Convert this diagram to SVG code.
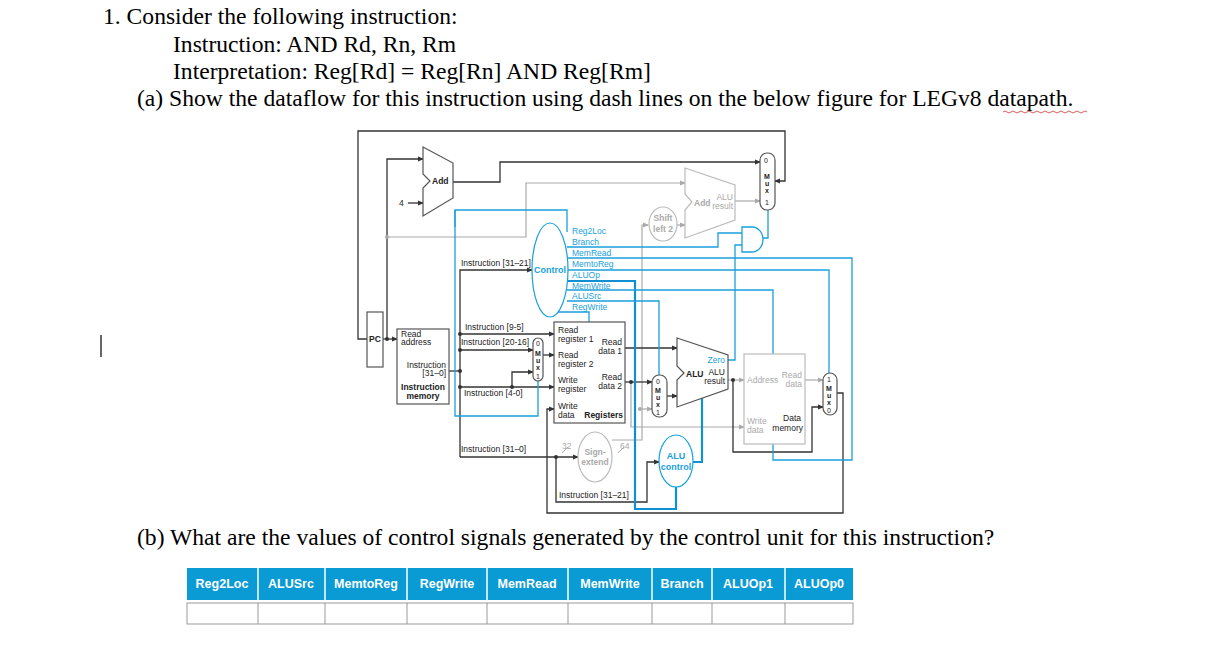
<svg xmlns="http://www.w3.org/2000/svg" width="1207" height="645" viewBox="0 0 1207 645">
<style>
.t{font-family:"Liberation Serif",serif;font-size:23.6px;fill:#000}
.s{font-family:"Liberation Sans",Arial,sans-serif;font-size:8.5px;fill:#222}
.sb{font-family:"Liberation Sans",Arial,sans-serif;font-size:8.5px;font-weight:bold;fill:#222}
.m{font-family:"Liberation Sans",Arial,sans-serif;font-size:7px;fill:#222}
.mb{font-family:"Liberation Sans",Arial,sans-serif;font-size:7px;font-weight:bold;fill:#222}
.bl{font-family:"Liberation Sans",Arial,sans-serif;font-size:8.5px;fill:#1aa0dc}
.blb{font-family:"Liberation Sans",Arial,sans-serif;font-size:9px;font-weight:bold;fill:#1aa0dc}
.g{font-family:"Liberation Sans",Arial,sans-serif;font-size:8.5px;fill:#aaa}
.gb{font-family:"Liberation Sans",Arial,sans-serif;font-size:8.5px;font-weight:bold;fill:#aaa}
.h{font-family:"Liberation Sans",Arial,sans-serif;font-size:12.5px;font-weight:bold;fill:#fff}
.k{fill:none;stroke:#333;stroke-width:1.3}
.ga{fill:none;stroke:#aaa;stroke-width:1.2}
.b{fill:none;stroke:#1aa0dc;stroke-width:1.3}
.bt{fill:none;stroke:#1090d0;stroke-width:2.2}
.box{fill:#fff;stroke:#555;stroke-width:1.2}
.gbox{fill:#fff;stroke:#bbb;stroke-width:1.2}
.ak{marker-end:url(#ak)}
.ag{marker-end:url(#ag)}
</style>
<defs>
<marker id="ak" markerWidth="6" markerHeight="6" refX="5" refY="3" orient="auto" markerUnits="userSpaceOnUse"><path d="M0,0.5L6,3L0,5.5z" fill="#333"/></marker>
<marker id="ag" markerWidth="6" markerHeight="6" refX="5" refY="3" orient="auto" markerUnits="userSpaceOnUse"><path d="M0,0.5L6,3L0,5.5z" fill="#aaa"/></marker>
</defs>
<rect width="1207" height="645" fill="#fff"/>
<text class="t" x="103" y="24">1. Consider the following instruction:</text>
<text class="t" x="173" y="52">Instruction: AND Rd, Rn, Rm</text>
<text class="t" x="173" y="79">Interpretation: Reg[Rd] = Reg[Rn] AND Reg[Rm]</text>
<text class="t" x="137" y="106">(a) Show the dataflow for this instruction using dash lines on the below figure for LEGv8 datapath.</text>
<path d="M1003,112q2,-2 4,0t4,0t4,0t4,0t4,0t4,0t4,0t4,0t4,0t4,0t4,0t4,0t4,0t4,0t4,0t4,0t4,0t4,0t4,0t4,0t4,0" fill="none" stroke="#c33" stroke-width="0.8"/>
<line x1="101" y1="335" x2="101" y2="357" stroke="#000" stroke-width="1.2"/>
<text class="t" x="137" y="545">(b) What are the values of control signals generated by the control unit for this instruction?</text>

<g id="connectors">
<path class="k ak" d="M383,339H358V131H785V181H775"/>
<path class="k ak" d="M387,339V159H423"/>
<path class="k ak" d="M408,203H423"/>
<path class="k ak" d="M453,182H500V162H760"/>
<path class="ga ag" d="M387,237H526V183H685"/>
<path class="ga ag" d="M735,201H760"/>
<path class="ga ag" d="M677,225H685"/>
<path class="ga ag" d="M612,440H642V225H648"/>
<path class="ga ag" d="M642,409H652"/>
<path class="k ak" d="M383,339H397"/>
<path class="k" d="M449,371H460"/>
<path class="k ak" d="M460,457V270H532"/>
<path class="k ak" d="M460,334H554"/>
<path class="k ak" d="M460,350H533"/>
<path class="k ak" d="M460,387H554"/>
<path class="k ak" d="M512,387V372H533"/>
<path class="k ak" d="M460,457H578"/>
<path class="k ak" d="M556,457V502H647V462H659"/>
<path class="k ak" d="M543,355H554"/>
<path class="k ak" d="M625,348H677"/>
<path class="k ak" d="M625,382H652"/>
<path class="ga ag" d="M631,382V427H744"/>
<path class="k ak" d="M667,396H677"/>
<path class="ga ag" d="M728,380H744"/>
<path class="k ak" d="M733,380V452H812V407H823"/>
<path class="ga ag" d="M805,380H823"/>
<path class="k ak" d="M837,393H843V513H547V409H554"/>
<path class="b" d="M455,227V210H567V232"/>
<path class="b" d="M455,210V416H538V381"/>
<path class="b" d="M567,247H718V233H742"/>
<path class="b" d="M728,360H735V245H742"/>
<path class="b" d="M762,238H768V210"/>
<path class="b" d="M567,258H852V460H773V444"/>
<path class="b" d="M567,270H829V373"/>
<path class="bt" d="M567,281H635V509H676V487"/>
<path class="b" d="M567,290H773V354"/>
<path class="b" d="M567,301H659V375"/>
<path class="b" d="M558,312H589V322"/>
<path class="bt" d="M702,398V462H693"/>
<g fill="#333"><circle cx="387" cy="339" r="2"/><circle cx="460" cy="334" r="2"/><circle cx="460" cy="350" r="2"/><circle cx="460" cy="371" r="2"/><circle cx="460" cy="387" r="2"/><circle cx="512" cy="387" r="2"/><circle cx="556" cy="457" r="2"/><circle cx="631" cy="382" r="2"/><circle cx="733" cy="380" r="2"/></g>
<circle cx="387" cy="237" r="2" fill="#aaa"/><circle cx="640" cy="409" r="2" fill="#aaa"/>
<path d="M562,453l6,-6M618,453l6,-6" stroke="#aaa"/>
</g>

<g id="add4"><polygon class="box" points="423,147 453,163 453,198 423,216 423,188 430,181 423,174"/><text class="sb" x="432" y="184">Add</text><text class="s" x="399" y="206">4</text></g>
<g id="branchadd"><polygon class="gbox" points="685,168 735,185 735,220 685,238 685,210 692,202 685,194"/><text class="gb" x="694" y="206">Add</text><text class="g" x="733" y="200" text-anchor="end">ALU</text><text class="g" x="733" y="209" text-anchor="end">result</text></g>
<g id="pcmux"><rect class="box" x="760" y="153" width="15" height="57" rx="7"/><text class="m" x="764" y="163">0</text><text class="mb" x="764" y="179">M</text><text class="mb" x="765" y="186">u</text><text class="mb" x="765" y="193">x</text><text class="m" x="765" y="205" fill="#aaa">1</text></g>
<g id="shift"><ellipse cx="663" cy="224" rx="14" ry="17" class="gbox"/><text class="gb" x="663" y="221" text-anchor="middle">Shift</text><text class="gb" x="663" y="232" text-anchor="middle">left 2</text></g>
<g id="and"><path d="M742,227H752A11,12.5 0 0 1 752,252H742Z" fill="#fff" stroke="#1aa0dc" stroke-width="1.3"/></g>
<g id="control"><ellipse cx="550" cy="270" rx="18" ry="47" fill="#fff" stroke="#1aa0dc" stroke-width="1.2"/><text class="blb" x="550" y="273" text-anchor="middle">Control</text>
<text class="bl" x="572" y="234">Reg2Loc</text><text class="bl" x="572" y="245">Branch</text><text class="bl" x="572" y="256">MemRead</text><text class="bl" x="572" y="267">MemtoReg</text><text class="bl" x="572" y="278">ALUOp</text><text class="bl" x="572" y="289">MemWrite</text><text class="bl" x="572" y="299">ALUSrc</text><text class="bl" x="572" y="310">RegWrite</text></g>
<g id="pc"><rect class="box" x="367" y="312" width="16" height="55"/><text class="sb" x="375" y="342" text-anchor="middle">PC</text></g>
<g id="imem"><rect class="box" x="397" y="329" width="52" height="75"/><text class="s" x="401" y="337">Read</text><text class="s" x="401" y="345">address</text><text class="s" x="446" y="368" text-anchor="end">Instruction</text><text class="s" x="446" y="376" text-anchor="end">[31–0]</text><text class="sb" x="423" y="390" text-anchor="middle">Instruction</text><text class="sb" x="423" y="399" text-anchor="middle">memory</text></g>
<g id="ilabels"><text class="s" x="461" y="266">Instruction [31–21]</text><text class="s" x="465" y="330">Instruction [9-5]</text><text class="s" x="461" y="345">Instruction [20-16]</text><text class="s" x="464" y="396">Instruction [4-0]</text><text class="s" x="461" y="452">Instruction [31–0]</text><text class="s" x="559" y="498">Instruction [31–21]</text></g>
<g id="regmux"><rect class="box" x="533" y="338" width="10" height="43" rx="5"/><text class="m" x="536" y="346">0</text><text class="mb" x="535" y="356">M</text><text class="mb" x="536" y="363">u</text><text class="mb" x="536" y="370">x</text><text class="m" x="536" y="379">1</text></g>
<g id="registers"><rect class="box" x="554" y="322" width="71" height="101"/><text class="s" x="558" y="333">Read</text><text class="s" x="558" y="342">register 1</text><text class="s" x="558" y="358">Read</text><text class="s" x="558" y="367">register 2</text><text class="s" x="558" y="383">Write</text><text class="s" x="558" y="392">register</text><text class="s" x="558" y="409">Write</text><text class="s" x="558" y="418">data</text><text class="sb" x="623" y="418" text-anchor="end">Registers</text><text class="s" x="622" y="345" text-anchor="end">Read</text><text class="s" x="622" y="354" text-anchor="end">data 1</text><text class="s" x="622" y="380" text-anchor="end">Read</text><text class="s" x="622" y="389" text-anchor="end">data 2</text></g>
<g id="signext"><ellipse cx="595" cy="457" rx="17" ry="25" class="gbox"/><text class="gb" x="595" y="455" text-anchor="middle">Sign-</text><text class="gb" x="595" y="465" text-anchor="middle">extend</text><text class="g" x="562" y="449">32</text><text class="g" x="620" y="449">64</text></g>
<g id="alumux"><rect class="box" x="652" y="375" width="15" height="42" rx="7"/><text class="m" x="656" y="384">0</text><text class="mb" x="655" y="393">M</text><text class="mb" x="656" y="400">u</text><text class="mb" x="656" y="407">x</text><text class="m" x="656" y="415">1</text></g>
<g id="alu"><polygon class="box" points="677,338 728,355 728,389 677,407 677,380 684,373 677,366"/><text class="sb" x="686" y="377">ALU</text><text class="s" x="725" y="375" text-anchor="end">ALU</text><text class="s" x="725" y="384" text-anchor="end">result</text><text class="bl" x="725" y="363" text-anchor="end">Zero</text></g>
<g id="aluctl"><ellipse cx="676" cy="461" rx="17" ry="26" fill="#fff" stroke="#1aa0dc" stroke-width="1.2"/><text class="blb" x="676" y="459" text-anchor="middle">ALU</text><text class="blb" x="676" y="470" text-anchor="middle">control</text></g>
<g id="dmem"><rect class="gbox" x="744" y="354" width="61" height="90"/><text class="g" x="747" y="383">Address</text><text class="g" x="802" y="378" text-anchor="end">Read</text><text class="g" x="802" y="387" text-anchor="end">data</text><text class="g" x="747" y="424">Write</text><text class="g" x="747" y="433">data</text><text class="s" x="801" y="421" text-anchor="end" fill="#999">Data</text><text class="s" x="803" y="431" text-anchor="end" fill="#999">memory</text></g>
<g id="memmux"><rect class="box" x="823" y="373" width="14" height="42" rx="7"/><text class="m" x="827" y="382" fill="#aaa">1</text><text class="mb" x="826" y="391">M</text><text class="mb" x="827" y="398">u</text><text class="mb" x="827" y="405">x</text><text class="m" x="827" y="413">0</text></g>

<g id="table">
<rect x="187" y="568" width="666" height="32" fill="#0a9ad4"/>
<g stroke="#fff" stroke-width="1.5"><line x1="258" y1="568" x2="258" y2="600"/><line x1="325" y1="568" x2="325" y2="600"/><line x1="407" y1="568" x2="407" y2="600"/><line x1="487" y1="568" x2="487" y2="600"/><line x1="568" y1="568" x2="568" y2="600"/><line x1="652" y1="568" x2="652" y2="600"/><line x1="712" y1="568" x2="712" y2="600"/><line x1="785" y1="568" x2="785" y2="600"/></g>
<text class="h" x="222" y="588" text-anchor="middle">Reg2Loc</text><text class="h" x="291" y="588" text-anchor="middle">ALUSrc</text><text class="h" x="366" y="588" text-anchor="middle">MemtoReg</text><text class="h" x="447" y="588" text-anchor="middle">RegWrite</text><text class="h" x="527" y="588" text-anchor="middle">MemRead</text><text class="h" x="610" y="588" text-anchor="middle">MemWrite</text><text class="h" x="682" y="588" text-anchor="middle">Branch</text><text class="h" x="748" y="588" text-anchor="middle">ALUOp1</text><text class="h" x="819" y="588" text-anchor="middle">ALUOp0</text>
<g stroke="#999" stroke-width="1" fill="none"><rect x="187" y="603" width="666" height="21"/><path d="M258,603V624M325,603V624M407,603V624M487,603V624M568,603V624M652,603V624M712,603V624M785,603V624"/></g>
</g>
</svg>
